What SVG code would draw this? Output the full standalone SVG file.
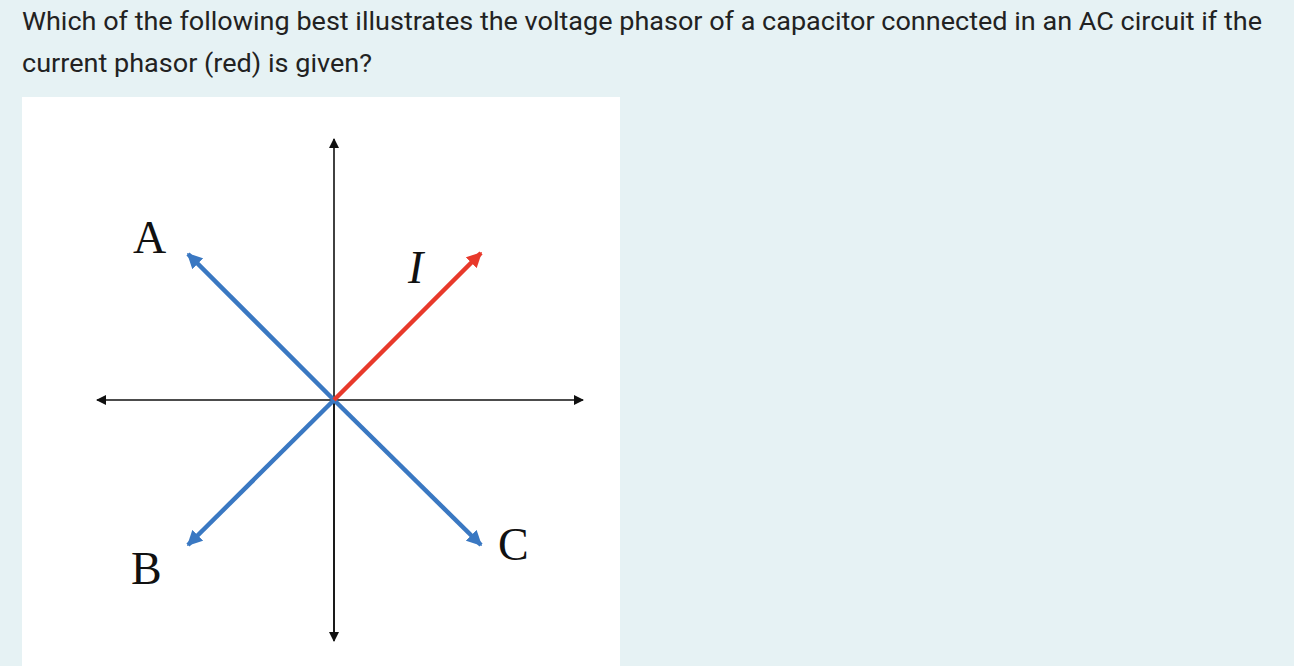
<svg xmlns="http://www.w3.org/2000/svg" width="1294" height="666" viewBox="0 0 1294 666">
<style>
.q{font-family:Roboto,"Liberation Sans",sans-serif;font-size:26.5px;fill:#222}
.lab{font-family:"Liberation Serif",serif;font-size:46px;fill:#111}
.ax{stroke:#111;stroke-width:1.6;fill:none}
.blue{stroke:#3a78c2;stroke-width:4.5;fill:none}
.red{stroke:#e8392b;stroke-width:4.5;fill:none}
</style>
<defs>
<marker id="ka" viewBox="0 0 10 10" refX="9" refY="5" markerWidth="11" markerHeight="10" markerUnits="userSpaceOnUse" orient="auto"><path d="M0,0L10,5L0,10z" fill="#111"/></marker>
<marker id="ba" viewBox="0 0 10 10" refX="9" refY="5" markerWidth="3.4" markerHeight="3.4" orient="auto"><path d="M0,0L10,5L0,10z" fill="#3a78c2"/></marker>
<marker id="ra" viewBox="0 0 10 10" refX="9" refY="5" markerWidth="3.4" markerHeight="3.4" orient="auto"><path d="M0,0L10,5L0,10z" fill="#e8392b"/></marker>
</defs>
<rect width="1294" height="666" fill="#e6f2f4"/>
<text class="q" x="22" y="30" textLength="1240" lengthAdjust="spacingAndGlyphs">Which of the following best illustrates the voltage phasor of a capacitor connected in an AC circuit if the</text>
<text class="q" x="22" y="72" textLength="350" lengthAdjust="spacingAndGlyphs">current phasor (red) is given?</text>
<rect x="22" y="97" width="598" height="569" fill="#fff"/>
<g id="connectors">
<line class="ax" x1="334" y1="640" x2="334" y2="139" marker-end="url(#ka)"/>
<line class="ax" x1="334" y1="400" x2="334" y2="641" marker-end="url(#ka)"/>
<line class="ax" x1="334" y1="400" x2="97" y2="400" marker-end="url(#ka)"/>
<line class="ax" x1="334" y1="400" x2="583" y2="400" marker-end="url(#ka)"/>
<line class="blue" x1="334" y1="400" x2="188" y2="254" marker-end="url(#ba)"/>
<line class="blue" x1="334" y1="400" x2="188" y2="545" marker-end="url(#ba)"/>
<line class="blue" x1="334" y1="400" x2="481" y2="545" marker-end="url(#ba)"/>
<line class="red" x1="334" y1="400" x2="481" y2="253" marker-end="url(#ra)"/>
</g>
<g id="A"><text class="lab" x="133" y="253">A</text></g>
<g id="I"><text class="lab" x="408" y="283" font-style="italic">I</text></g>
<g id="B"><text class="lab" x="131" y="584">B</text></g>
<g id="C"><text class="lab" x="498" y="560">C</text></g>
</svg>
